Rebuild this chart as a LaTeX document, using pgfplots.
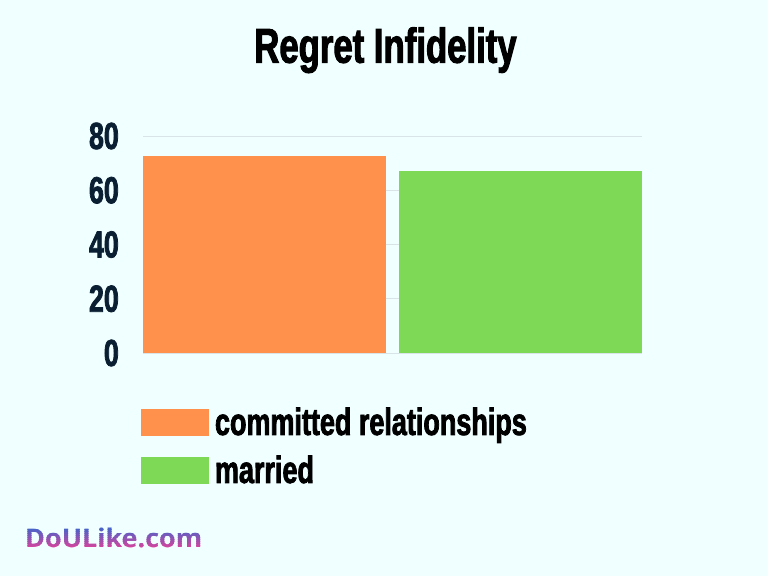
\documentclass[border=0pt]{standalone}
\usepackage{pgfplots}
\pgfplotsset{compat=1.18}
\usepackage{fontspec}
\newfontfamily\condfont[FakeStretch=0.71,FakeBold=2]{Liberation Sans Bold}
\newfontfamily\wmfont{Open Sans}
\definecolor{bgc}{HTML}{F0FFFF}
\definecolor{orangebar}{HTML}{FF914D}
\definecolor{greenbar}{HTML}{7ED957}
\definecolor{gridc}{HTML}{D8E4E8}
\definecolor{tickc}{HTML}{0B1F33}
\definecolor{wmtop}{HTML}{4A63C8}
\definecolor{wmbot}{HTML}{DE429A}
\pgfplotsset{
    boxlegend/.style={
        legend image code/.code={\draw[##1,draw=none] (0bp,-1bp) rectangle (68bp,26bp);}
    }
}

\begin{document}
\begin{tikzpicture}
    % page background, 768 x 576
    \fill[bgc] (0,0) rectangle (768bp,576bp);

    \node[anchor=base, inner sep=0pt, font=\condfont\fontsize{48.9bp}{50bp}\selectfont]
        at (385.5bp,513.3bp) {Regret Infidelity};

    \begin{axis}[
        at={(143bp,223bp)}, anchor=south west,
        scale only axis, width=499bp, height=217bp,
        xmin=-0.475, xmax=1.475, ymin=0, ymax=80,
        ybar, bar width=0.95, bar shift=0pt,
        axis line style={draw=none},
        major tick length=0pt,
        xtick=\empty,
        ytick={0,20,40,60,80},
        ymajorgrids,
        grid style={color=gridc, line width=0.8bp},
        /pgf/number format/assume math mode=true,
        yticklabel style={inner sep=0pt, xshift=-24bp, text=tickc,
            font=\condfont\fontsize{37.7bp}{40bp}\selectfont},
        legend style={
            at={(-0.004,-0.258)}, anchor=north west,
            draw=none, fill=none, inner sep=0pt, outer sep=0pt,
            row sep=15bp, column sep=6bp,
            font=\condfont\fontsize{38bp}{40bp}\selectfont,
            nodes={inner sep=0pt, text height=26bp, text depth=7bp},
            cells={anchor=base west}
        }
    ]
        \addplot[fill=orangebar, draw=none, boxlegend] coordinates {(0,72.6)};
        \addlegendentry{committed relationships}
        \addplot[fill=greenbar, draw=none, boxlegend] coordinates {(1,67.2)};
        \addlegendentry{married}
    \end{axis}

    % watermark with a top-to-bottom colour blend
    \foreach \i in {0,...,10} {
        \pgfmathsetmacro\t{10*\i}
        \begin{scope}
            \ifnum\i=0
                \clip (0bp,0bp) rectangle (220bp,28bp);
            \else\ifnum\i=10
                \clip (0bp,46bp) rectangle (220bp,70bp);
            \else
                \clip (0bp,26bp+2bp*\i) rectangle (220bp,28bp+2bp*\i);
            \fi\fi
            \node[anchor=base west, inner sep=0pt, text=wmtop!\t!wmbot] at (25bp,28bp)
                {\resizebox{177bp}{19.5bp}{\wmfont\bfseries DoULike.com}};
        \end{scope}
    }
\end{tikzpicture}
\end{document}
